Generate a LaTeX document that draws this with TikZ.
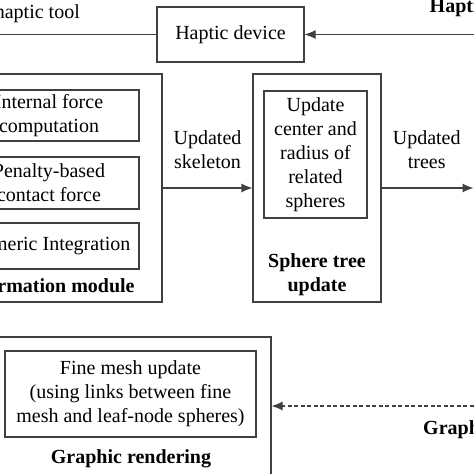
\documentclass[tikz,border=0pt]{standalone}
\usepackage{fontspec}
\setmainfont{Liberation Serif}
\usetikzlibrary{arrows.meta}
\tikzset{
  txt/.style={inner sep=0pt, align=center, font=\fontsize{20}{24}\selectfont},
  btxt/.style={inner sep=0pt, align=center, font=\fontsize{20}{24}\selectfont\bfseries},
  box/.style={txt, draw=black!75, line width=1.1pt},
  conn/.style={draw=black!75, line width=1.1pt},
  arr/.style={conn, -{Latex[length=11pt,width=9pt]}},
  dasharr/.style={arr, dash pattern=on 4pt off 2.5pt},
}
\begin{document}
\begin{tikzpicture}[x=1pt,y=-1pt]
\useasboundingbox (0,0) rectangle (474,474);
\fill[white] (0,0) rectangle (474,474);
\clip (0,0) rectangle (474,474);
% top row
\node[box, minimum width=147pt, minimum height=55pt] (hd) at (230.5,34.5) {Haptic device};
\node[txt, anchor=base east] (ht) at (80,18.3) {haptic tool};
\node[btxt, anchor=base west] (hr) at (429.5,12.7) {Haptic rendering};
\coordinate (lft) at (-5,34.5);
\coordinate (rgt) at (480,34.5);
\draw[conn] (hd.west) -- (lft);
\draw[arr] (rgt) -- (hd.east);
% deformation module
\node[box, minimum width=232pt, minimum height=228pt] (dm) at (46,188) {};
\node[box, minimum width=180pt, minimum height=51pt] (if) at (49,115.5) {Internal force\\computation};
\node[box, minimum width=180pt, minimum height=52pt] (pb) at (49,183) {Penalty-based\\contact force};
\node[box, minimum width=180pt, minimum height=46pt] (ni) at (49,246) {Numeric Integration};
\node[btxt, anchor=base] (dml) at (46,292) {Deformation module};
% sphere tree update
\node[box, minimum width=128pt, minimum height=228pt] (st) at (317,188) {};
\node[box, minimum width=103pt, minimum height=127pt] (su) at (315.5,154.5) {Update\\center and\\radius of\\related\\spheres};
\node[btxt] (stl) at (317,275) {Sphere tree\\update};
\node[txt] (us) at (207.5,150) {Updated\\skeleton};
\node[txt] (ut) at (426.7,150) {Updated\\trees};
\draw[arr] (dm.east) -- (st.west);
\coordinate (tr) at (473.5,188);
\draw[arr] (st.east) -- (tr);
% graphic rendering
\node[box, minimum width=281pt, minimum height=200pt] (gr) at (130.5,437) {};
\node[box, minimum width=251pt, minimum height=86pt] (fm) at (130.5,394) {Fine mesh update\\(using links between fine\\mesh and leaf-node spheres)};
\node[btxt, anchor=base] (grl) at (131,463) {Graphic rendering};
\node[btxt, anchor=base west] (gp) at (423,434) {Graphic};
\coordinate (gd) at (480,406);
\draw[dasharr] (gd) -- (gd -| gr.east);
\end{tikzpicture}
\end{document}
